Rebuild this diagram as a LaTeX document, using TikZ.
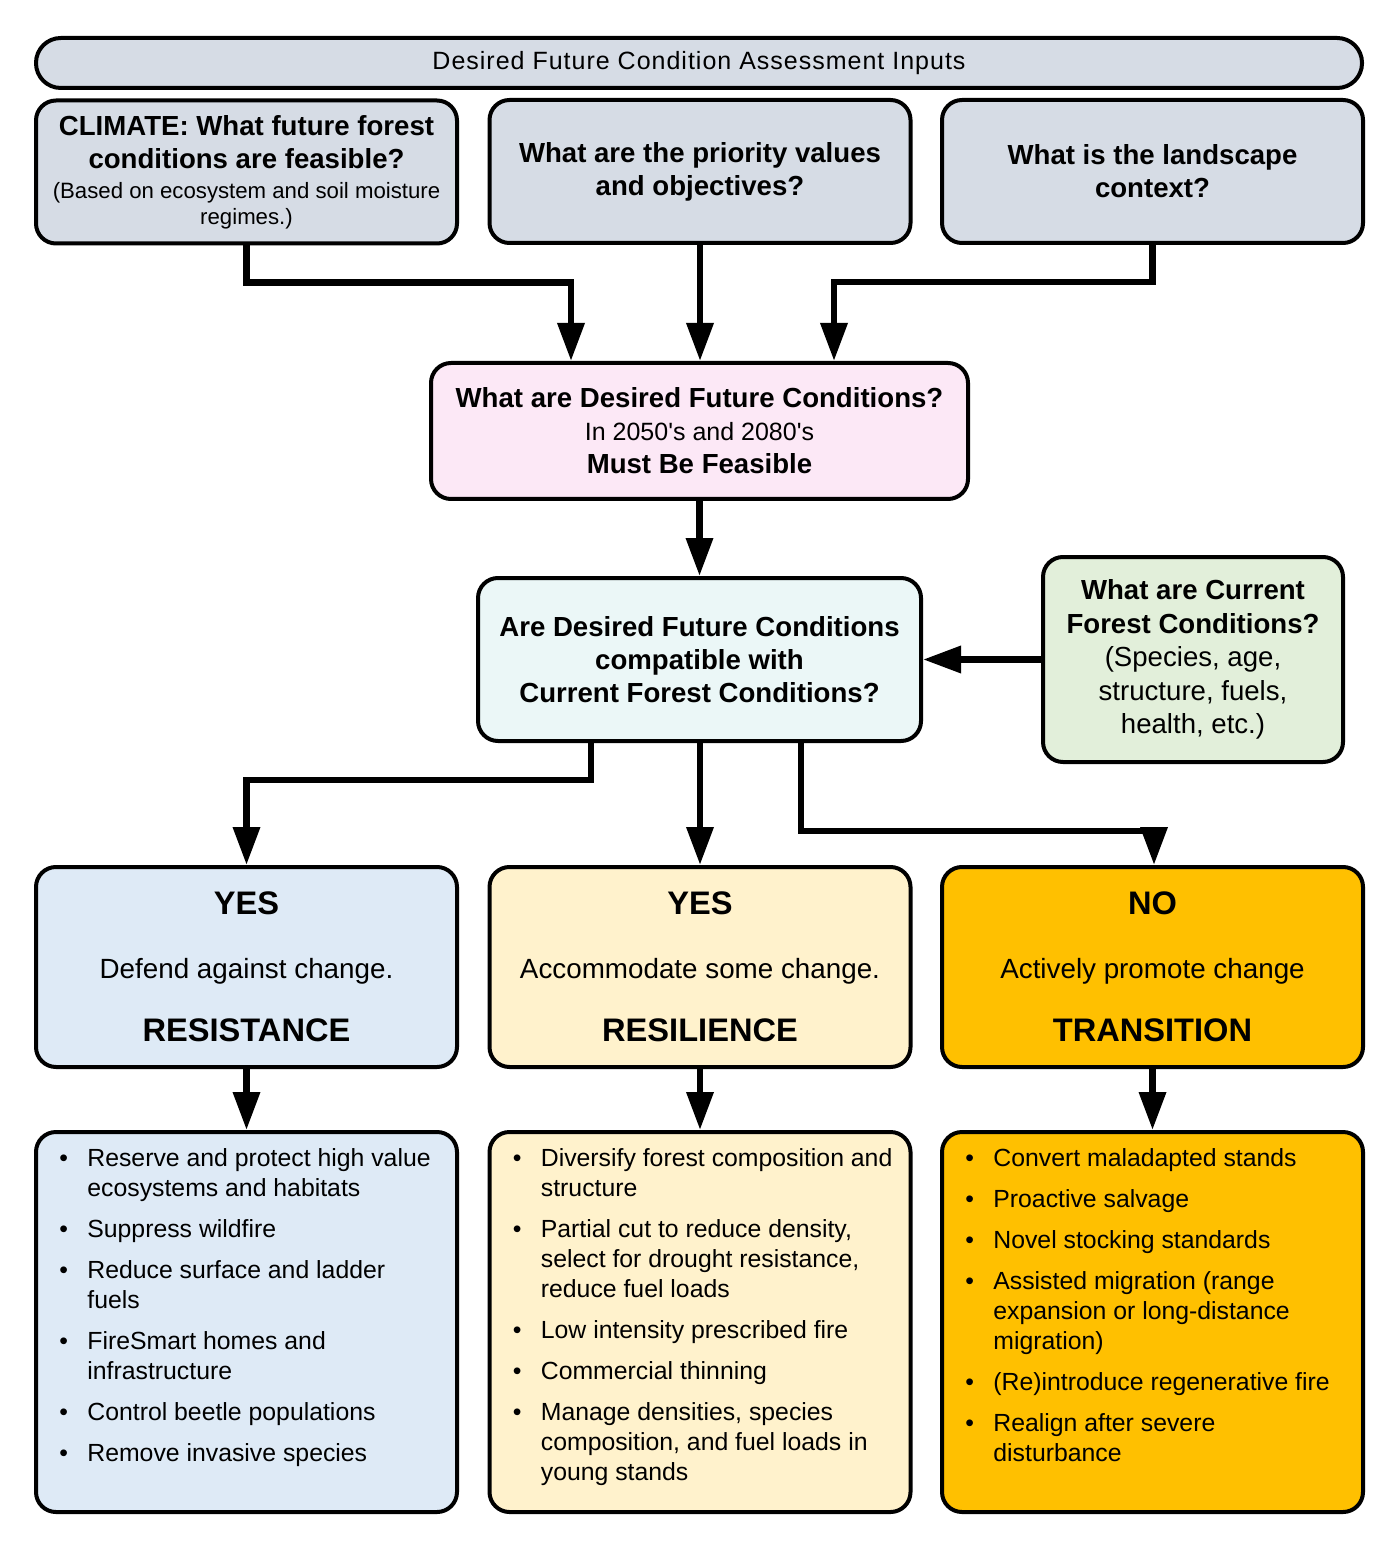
\documentclass[tikz,border=0pt]{standalone}
\usepackage{fontspec}
\setmainfont{Liberation Sans}
\usetikzlibrary{arrows.meta}
\definecolor{topfill}{HTML}{D6DCE5}
\definecolor{dfcfill}{HTML}{FCE8F6}
\definecolor{cmpfill}{HTML}{EBF7F7}
\definecolor{curfill}{HTML}{E2EFDA}
\definecolor{resfill}{HTML}{DEEAF6}
\definecolor{rslfill}{HTML}{FFF2CC}
\definecolor{trnfill}{HTML}{FFC000}
\newcommand\ttl{\fontsize{13.8}{16.5}\selectfont}
\newcommand\subt{\mdseries\fontsize{11.1}{16.5}\selectfont}
\begin{document}
\begin{tikzpicture}[x=0.5pt,y=-0.5pt,
  box/.style={draw=black, line width=2pt, rounded corners=10pt, align=center, inner sep=0pt, text=black},
  topbox/.style={box, fill=topfill, minimum width=210.5pt, minimum height=71.5pt, font=\ttl\bfseries},
  outbox/.style={box, minimum width=210.5pt, minimum height=100pt, font=\fontsize{16.3}{31.75}\selectfont},
  listbox/.style={box, minimum width=210.5pt, minimum height=190pt},
  listtxt/.style={anchor=north west, inner sep=0pt, align=left, font=\fontsize{12.4}{15}\selectfont},
  arr/.style={line width=3.3pt, -{Triangle[length=19pt,width=13pt]}}]
\useasboundingbox (0,0) rectangle (1390,1550);

% header
\node[box, fill=topfill, rounded corners=12.4pt, minimum width=663pt, minimum height=25pt,
  font=\fontsize{12.5}{15}\selectfont\addfontfeature{LetterSpace=4}] (head) at (699,63)
  {Desired Future Condition Assessment Inputs};

% inputs
\node[topbox] (clim) at (246.5,172)
  {CLIMATE: What future forest\\conditions are feasible?\\[-1.5pt]\subt (Based on ecosystem and soil moisture\\[-3.5pt]\subt regimes.)};
\node[topbox] (prio) at (700,171.5) {What are the priority values\\and objectives?};
\node[topbox] (land) at (1152.5,171.5) {What is the landscape\\context?};

% desired future conditions
\node[box, fill=dfcfill, minimum width=268.5pt, minimum height=68pt, font=\ttl\bfseries] (dfc) at (699.5,431)
  {What are Desired Future Conditions?\\\mdseries\fontsize{12.5}{16.5}\selectfont In 2050\textquotesingle s and 2080\textquotesingle s\\\bfseries\ttl Must Be Feasible};

% compatibility
\node[box, fill=cmpfill, minimum width=221.5pt, minimum height=81.5pt, font=\ttl\bfseries] (compat) at (699.5,659.5)
  {Are Desired Future Conditions\\compatible with\\Current Forest Conditions?};

% current conditions
\node[box, fill=curfill, minimum width=150pt, minimum height=102.5pt, font=\fontsize{13.8}{16.75}\selectfont] (cur) at (1193,659.5)
  {\bfseries What are Current\\\bfseries Forest Conditions?\\(Species, age,\\structure, fuels,\\health, etc.)};

% outcomes
\node[outbox, fill=resfill] (yes1) at (246.5,967)
  {\bfseries YES\\\mdseries\fontsize{13.9}{31.75}\selectfont Defend against change.\\\bfseries\fontsize{16.3}{31.75}\selectfont RESISTANCE};
\node[outbox, fill=rslfill] (yes2) at (700,967)
  {\bfseries YES\\\mdseries\fontsize{13.9}{31.75}\selectfont Accommodate some change.\\\bfseries\fontsize{16.3}{31.75}\selectfont RESILIENCE};
\node[outbox, fill=trnfill] (no) at (1152.5,967)
  {\bfseries NO\\\mdseries\fontsize{13.9}{31.75}\selectfont Actively promote change\\\bfseries\fontsize{16.3}{31.75}\selectfont TRANSITION};

% action lists
\node[listbox, fill=resfill] (l1) at (246.5,1322) {};
\node[listbox, fill=rslfill] (l2) at (700,1322) {};
\node[listbox, fill=trnfill] (l3) at (1152.5,1322) {};

\node[listtxt] (l1t) at ([xshift=12.5pt,yshift=-7.5pt]l1.north west) {%
\begin{tabular}{@{}p{14pt}@{}l@{}}
\textbullet & Reserve and protect high value\\
 & ecosystems and habitats\\[5.5pt]
\textbullet & Suppress wildfire\\[5.5pt]
\textbullet & Reduce surface and ladder\\
 & fuels\\[5.5pt]
\textbullet & FireSmart homes and\\
 & infrastructure\\[5.5pt]
\textbullet & Control beetle populations\\[5.5pt]
\textbullet & Remove invasive species
\end{tabular}};

\node[listtxt] (l2t) at ([xshift=12.5pt,yshift=-7.5pt]l2.north west) {%
\begin{tabular}{@{}p{14pt}@{}l@{}}
\textbullet & Diversify forest composition and\\
 & structure\\[5.5pt]
\textbullet & Partial cut to reduce density,\\
 & select for drought resistance,\\
 & reduce fuel loads\\[5.5pt]
\textbullet & Low intensity prescribed fire\\[5.5pt]
\textbullet & Commercial thinning\\[5.5pt]
\textbullet & Manage densities, species\\
 & composition, and fuel loads in\\
 & young stands
\end{tabular}};

\node[listtxt] (l3t) at ([xshift=12.5pt,yshift=-7.5pt]l3.north west) {%
\begin{tabular}{@{}p{14pt}@{}l@{}}
\textbullet & Convert maladapted stands\\[5.5pt]
\textbullet & Proactive salvage\\[5.5pt]
\textbullet & Novel stocking standards\\[5.5pt]
\textbullet & Assisted migration (range\\
 & expansion or long-distance\\
 & migration)\\[5.5pt]
\textbullet & (Re)introduce regenerative fire\\[5.5pt]
\textbullet & Realign after severe\\
 & disturbance
\end{tabular}};

% connectors
\draw[arr] (clim.south) -- ++(0,37) -| ([xshift=-64.25pt]dfc.north);
\draw[arr] (prio.south) -- (prio.south |- dfc.north);
\draw[arr] (land.south) -- ++(0,37) -| ([xshift=67.25pt]dfc.north);
\draw[arr] (dfc.south) -- (dfc.south |- compat.north);
\draw[arr] (cur.west) -- (compat.east);
\draw[arr] ([xshift=-54.25pt]compat.south) -- ++(0,37) -| (yes1.north);
\draw[arr] (compat.south) -- (compat.south -| yes2.north) -- (yes2.north);
\draw[arr] ([xshift=50.75pt]compat.south) -- ++(0,88) -| ([xshift=0.75pt]no.north);
\draw[arr] (yes1.south) -- (l1.north);
\draw[arr] (yes2.south) -- (l2.north);
\draw[arr] (no.south) -- (l3.north);
\end{tikzpicture}
\end{document}
